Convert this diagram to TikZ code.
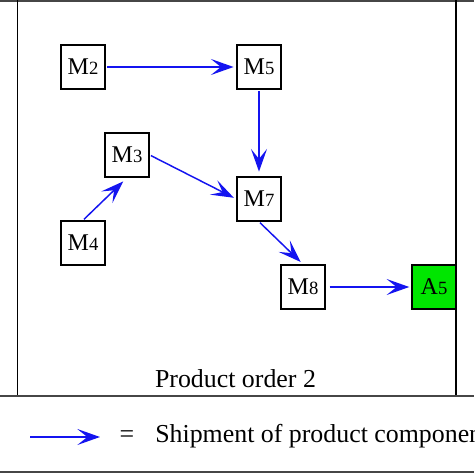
\documentclass[tikz,border=0pt]{standalone}
\usepackage{fontspec}
\setmainfont{Liberation Serif}
\usetikzlibrary{arrows.meta}

\newcommand{\compno}[1]{{\fontsize{14}{16}\selectfont #1}}

\begin{document}
\begin{tikzpicture}[x=0.75pt,y=0.75pt,yscale=-1,xscale=1,
  comp/.style={draw, line width=1.1pt, minimum size=33pt, inner sep=0pt, font=\fontsize{18}{20}\selectfont},
  ship/.style={color={rgb, 255:red, 20; green, 20; blue, 240}, line width=1.1pt, -{Stealth[length=17pt,width=12pt,inset=7.5pt]}, shorten >=3pt, shorten <=1pt},
  rule/.style={line width=1.6pt, color={rgb, 255:red, 70; green, 70; blue, 70}},
  side/.style={line width=1.1pt, color=black},
  caption/.style={font=\fontsize{19.4}{23}\selectfont, inner sep=0pt}]
\path[use as bounding box, fill=white] (0,0) rectangle (474,474);
\clip (0,0) rectangle (474,474);

%Straight Lines
\draw[rule] (0,1) -- (474,1);
\draw[side] (17.5,0) -- (17.5,396);
\draw[side] (456,0) -- (456,396);
\draw[rule] (0,396) -- (474,396);
\draw[rule] (0,472) -- (474,472);

% Component Nodes
\node[comp] (m2) at (83,67) {M\compno{2}};
\node[comp] (m5) at (259,67) {M\compno{5}};
\node[comp] (m3) at (127,155) {M\compno{3}};
\node[comp] (m7) at (259,199) {M\compno{7}};
\node[comp] (m4) at (83,243) {M\compno{4}};
\node[comp] (m8) at (303,287) {M\compno{8}};
\node[comp, fill={rgb, 255:red, 0; green, 230; blue, 0}] (a5) at (434,287) {A\compno{5}};

%Arrows
\draw[ship, shorten >=2pt] (m2) -- (m5);
\draw[ship, shorten >=3.5pt] (m5.south) -- (m7.north);
\draw[ship, shorten >=2pt] (m3.east) -- (m7.west);
\draw[ship, shorten >=4pt] (m4.north) -- (m3.south);
\draw[ship, shorten >=2.5pt] (m7.south) -- (m8.north);
\draw[ship, shorten <=3pt, shorten >=1.5pt] (m8) -- (a5);

% Text Node
\node[caption, anchor=base] (order) at (235.5,387) {Product order 2};

% Legend
\coordinate (legstart) at (30,437);
\coordinate (legend) at (100,437);
\draw[ship, shorten >=0pt, shorten <=0pt] (legstart) -- (legend);
\node[caption, anchor=base] (equals) at (127,442) {=};
\node[caption, anchor=base west] (shiplabel) at (155,442) {Shipment of product components};

\end{tikzpicture}
\end{document}
